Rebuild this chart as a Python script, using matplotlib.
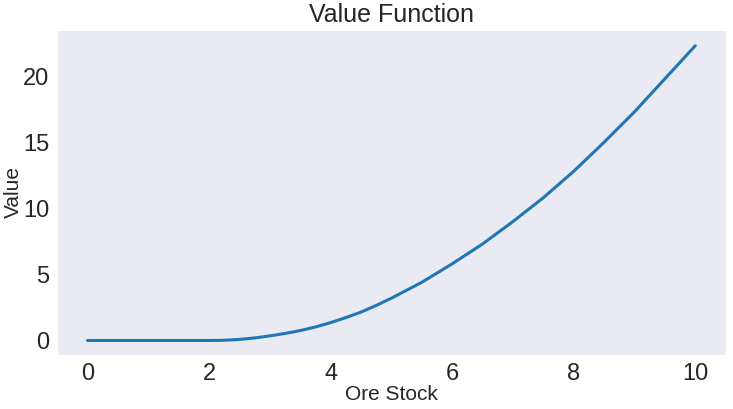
import matplotlib
matplotlib.use("Agg")
import matplotlib.pyplot as plt
import seaborn as sns

sns.set_style("dark")
plt.rcParams['font.family'] = ['Liberation Sans', 'DejaVu Sans']

ore_stock = [0, 0.5, 1, 1.5, 2, 2.2, 2.4, 2.6, 2.8, 3, 3.25, 3.5, 3.75, 4, 4.25, 4.5, 4.75, 5, 5.5, 6, 6.5, 7, 7.5, 8, 8.5, 9, 9.5, 10]
value = [0, 0, 0, 0, 0, 0.01, 0.05, 0.12, 0.22, 0.35, 0.53, 0.75, 1.02, 1.35, 1.73, 2.15, 2.65, 3.2, 4.4, 5.8, 7.3, 9.0, 10.8, 12.8, 15.0, 17.3, 19.8, 22.3]

fig = plt.figure(figsize=(7.33, 4.09), dpi=100)
ax = fig.add_axes([0.078, 0.132, 0.912, 0.795])
ax.plot(ore_stock, value, color='#1f77b4', lw=2.2)
ax.set_xlim(-0.5, 10.5)
ax.set_ylim(-1.1, 23.5)
ax.set_xticks([0, 2, 4, 6, 8, 10])
ax.set_yticks([0, 5, 10, 15, 20])
ax.tick_params(labelsize=17, colors='#262626', pad=2)
ax.set_xlabel('Ore Stock', fontsize=15, color='#262626', labelpad=0)
ax.set_ylabel('Value', fontsize=15, color='#262626', labelpad=0)
ax.set_title('Value Function', fontsize=18, color='#262626')
fig.savefig('out.png', dpi=100)
